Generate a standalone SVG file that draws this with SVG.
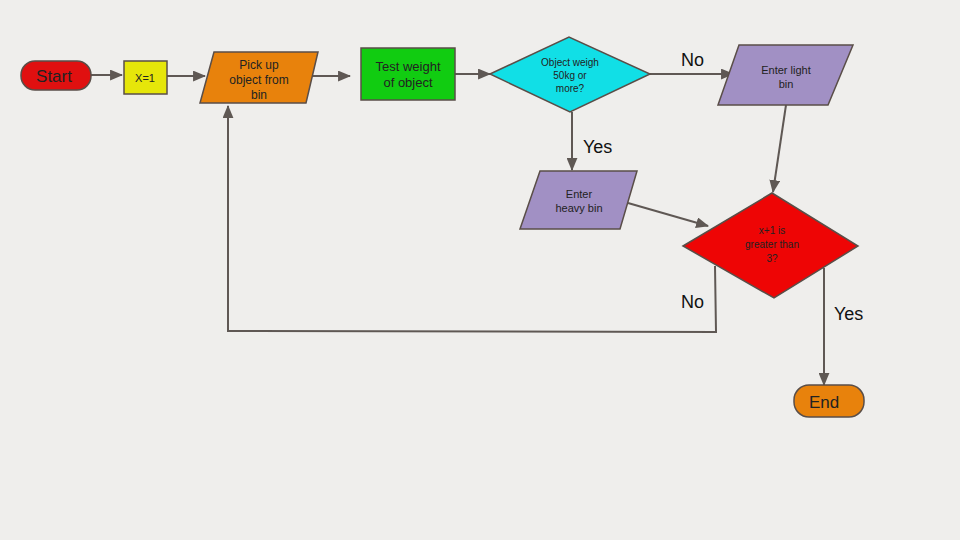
<svg xmlns="http://www.w3.org/2000/svg" width="960" height="540" viewBox="0 0 960 540">
<style>
text{font-family:"Liberation Sans",Arial,sans-serif;text-anchor:middle;fill:#222}
.shape{stroke:#5a4e48;stroke-width:1.5}
.conn{fill:none;stroke:#5f5854;stroke-width:2}
.lbl{font-size:18px;text-anchor:start;fill:#111}
</style>
<defs>
<marker id="ah" viewBox="0 0 12 10" refX="11" refY="5" markerWidth="13" markerHeight="11" markerUnits="userSpaceOnUse" orient="auto">
<path d="M0,0 L12,5 L0,10 z" fill="#5f5854"/>
</marker>
</defs>
<rect width="960" height="540" fill="#efeeec"/>
<g id="connectors">
<line class="conn" x1="91" y1="75" x2="122" y2="75" marker-end="url(#ah)"/>
<line class="conn" x1="167" y1="76" x2="205" y2="76" marker-end="url(#ah)"/>
<line class="conn" x1="311" y1="76" x2="350" y2="76" marker-end="url(#ah)"/>
<line class="conn" x1="455" y1="74" x2="490" y2="74" marker-end="url(#ah)"/>
<line class="conn" x1="650" y1="74" x2="733" y2="74" marker-end="url(#ah)"/>
<line class="conn" x1="786" y1="105" x2="773" y2="192" marker-end="url(#ah)"/>
<line class="conn" x1="572" y1="112" x2="572" y2="170" marker-end="url(#ah)"/>
<line class="conn" x1="628" y1="203" x2="708" y2="226" marker-end="url(#ah)"/>
<polyline class="conn" points="715,266 716,332 228,331 228,106" marker-end="url(#ah)"/>
<line class="conn" x1="824" y1="268" x2="824" y2="385" marker-end="url(#ah)"/>
</g>
<g id="start">
<rect class="shape" x="21" y="61" width="70" height="29" rx="14" fill="#e01010" stroke="#7a2a2a"/>
<text x="54" y="82" font-size="17" fill="#3a0a0a">Start</text>
</g>
<g id="x1">
<rect class="shape" x="124" y="61" width="43" height="33" fill="#e6e60a"/>
<text x="145" y="82" font-size="11">X=1</text>
</g>
<g id="pickup">
<polygon class="shape" points="214,52 318,52 306,103 200,103" fill="#e8820c"/>
<text x="259" y="69" font-size="12">Pick up</text>
<text x="259" y="84" font-size="12">object from</text>
<text x="259" y="99" font-size="12">bin</text>
</g>
<g id="test">
<rect class="shape" x="361" y="48" width="94" height="52" fill="#11cc11"/>
<text x="408" y="71" font-size="13">Test weight</text>
<text x="408" y="87" font-size="13">of object</text>
</g>
<g id="decision1">
<polygon class="shape" points="490,74 569,37 650,74 570,112" fill="#11dfe6"/>
<text x="570" y="66" font-size="10">Object weigh</text>
<text x="570" y="79" font-size="10">50kg or</text>
<text x="570" y="92" font-size="10">more?</text>
</g>
<g id="lightbin">
<polygon class="shape" points="739,45 853,45 828,105 718,105" fill="#a190c4"/>
<text x="786" y="74" font-size="11">Enter light</text>
<text x="786" y="88" font-size="11">bin</text>
</g>
<g id="heavybin">
<polygon class="shape" points="540,171 637,171 620,229 520,229" fill="#a190c4"/>
<text x="579" y="198" font-size="11">Enter</text>
<text x="579" y="212" font-size="11">heavy bin</text>
</g>
<g id="decision2">
<polygon class="shape" points="683,246 772,193 858,246 774,298" fill="#ee0505"/>
<text x="772" y="234" font-size="10" fill="#6a1010">x+1 is</text>
<text x="772" y="248" font-size="10" fill="#6a1010">greater than</text>
<text x="772" y="262" font-size="10" fill="#6a1010">3?</text>
</g>
<g id="end">
<rect class="shape" x="794" y="385" width="70" height="32" rx="15" fill="#e8820c"/>
<text x="824" y="408" font-size="17" fill="#2a1a0a">End</text>
</g>
<g id="labels">
<text class="lbl" x="681" y="66">No</text>
<text class="lbl" x="583" y="153">Yes</text>
<text class="lbl" x="681" y="308">No</text>
<text class="lbl" x="834" y="320">Yes</text>
</g>
</svg>
